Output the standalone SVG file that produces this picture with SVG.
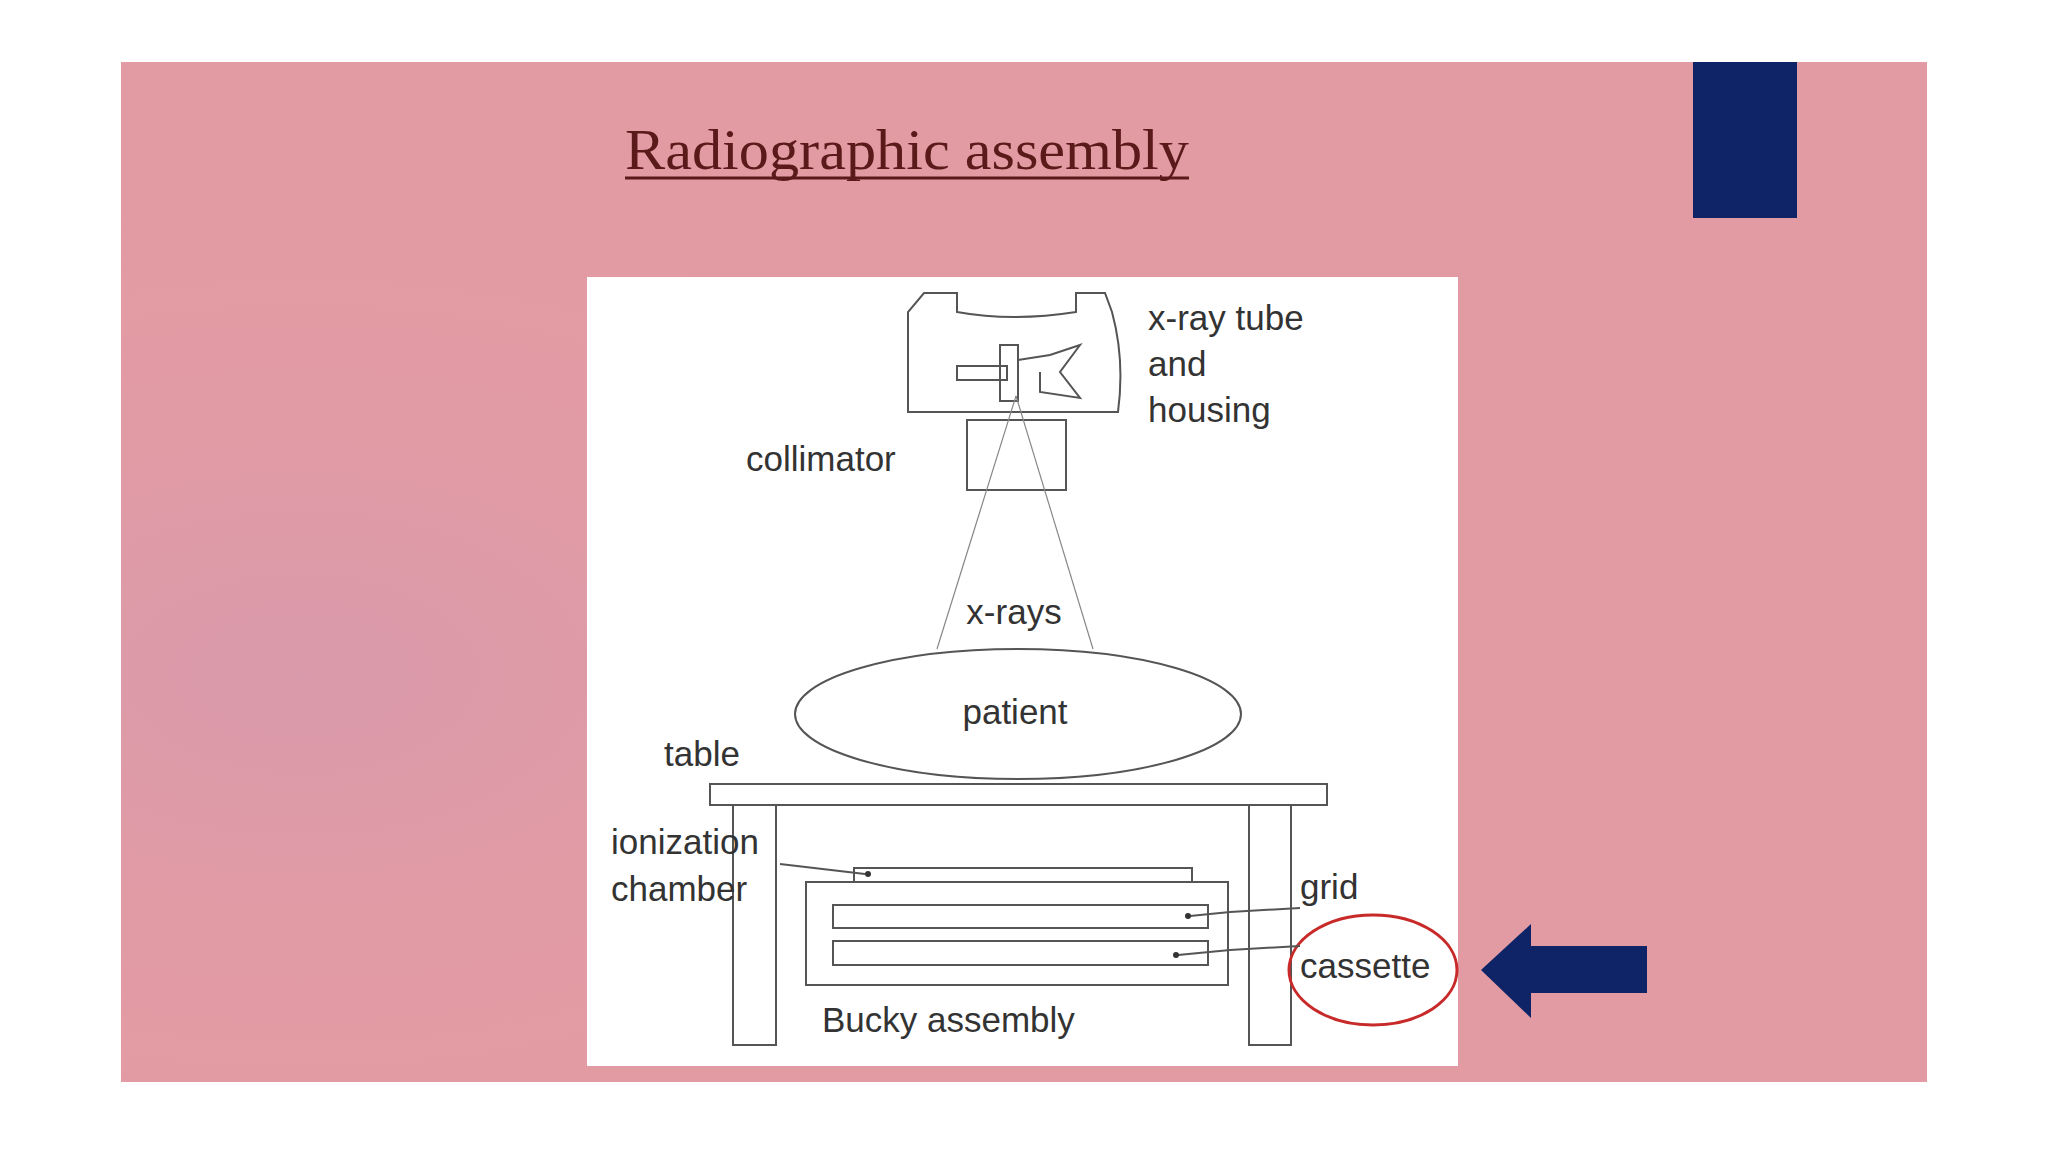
<svg xmlns="http://www.w3.org/2000/svg" width="2048" height="1152" viewBox="0 0 2048 1152">
<style>
.ln{fill:none;stroke:#555;stroke-width:2}
.bx{fill:#fff;stroke:#555;stroke-width:2}
.lb{font-family:"Liberation Sans",Arial,sans-serif;font-size:35px;fill:#333}
</style>
<defs>
<radialGradient id="g1" cx="0.1" cy="0.6" r="0.5"><stop offset="0" stop-color="#d99aab"/><stop offset="1" stop-color="#e49ca3" stop-opacity="0"/></radialGradient>
</defs>
<rect width="2048" height="1152" fill="#fff"/>
<rect x="121" y="62" width="1806" height="1020" fill="#e39ba3"/>
<rect x="121" y="62" width="1806" height="1020" fill="url(#g1)"/>
<rect x="1693" y="62" width="104" height="156" fill="#0f2466"/>
<g id="title"><text x="625" y="169" font-family="Liberation Serif,serif" font-size="58" fill="#5a1a1a" textLength="564" lengthAdjust="spacingAndGlyphs">Radiographic assembly</text>
<line x1="625" y1="178" x2="1189" y2="178" stroke="#5a1a1a" stroke-width="3"/></g>
<rect x="587" y="277" width="871" height="789" fill="#fff"/>
<g id="tube">
<path class="ln" d="M908,412 L908,312 L924,293 L957,293 L957,312 Q1012,322 1076,312 L1076,293 L1105,293 L1112,312 Q1125,360 1118,412 Z"/>
<rect class="ln" x="957" y="366" width="50" height="14"/>
<rect class="ln" x="1000" y="345" width="18" height="56"/>
<path class="ln" d="M1018,360 L1050,355 L1080,345 L1060,372 L1080,398 L1040,392 L1040,372"/>
<text class="lb" x="1148" y="330">x-ray tube</text>
<text class="lb" x="1148" y="376">and</text>
<text class="lb" x="1148" y="422">housing</text>
</g>
<g id="collimator"><rect class="ln" x="967" y="420" width="99" height="70"/>
<text class="lb" x="746" y="471">collimator</text></g>
<g id="xrays"><line x1="1016" y1="396" x2="937" y2="649" stroke="#888" stroke-width="1.2"/><line x1="1016" y1="396" x2="1093" y2="649" stroke="#888" stroke-width="1.2"/>
<text class="lb" x="1014" y="624" text-anchor="middle">x-rays</text></g>
<g id="patient"><ellipse class="ln" cx="1018" cy="714" rx="223" ry="65"/>
<text class="lb" x="1015" y="724" text-anchor="middle">patient</text></g>
<g id="table"><rect class="ln" x="710" y="784" width="617" height="21"/>
<rect class="ln" x="733" y="805" width="43" height="240"/>
<rect class="ln" x="1249" y="805" width="42" height="240"/>
<text class="lb" x="664" y="766">table</text></g>
<g id="bucky"><rect class="bx" x="854" y="868" width="338" height="14"/>
<rect class="bx" x="806" y="882" width="422" height="103"/>
<rect class="ln" x="833" y="905" width="375" height="23"/>
<rect class="ln" x="833" y="941" width="375" height="24"/>
<text class="lb" x="822" y="1032">Bucky assembly</text></g>
<g id="labels">
<text class="lb" x="611" y="854">ionization</text>
<text class="lb" x="611" y="901">chamber</text>
<text class="lb" x="1300" y="899">grid</text>
<text class="lb" x="1300" y="978">cassette</text>
<ellipse cx="1373" cy="970" rx="84" ry="55" fill="none" stroke="#c82a2a" stroke-width="3"/>
</g>
<g id="connectors">
<path class="ln" stroke-width="1.5" d="M780,864 L865,874"/><circle cx="868" cy="874" r="3" fill="#333"/>
<path class="ln" stroke-width="1.5" d="M1300,908 L1230,912 L1190,916"/><circle cx="1188" cy="916" r="3" fill="#333"/>
<path class="ln" stroke-width="1.5" d="M1300,946 L1230,950 L1178,955"/><circle cx="1176" cy="955" r="3" fill="#333"/>
<polygon points="1481,970 1531,924 1531,946 1647,946 1647,993 1531,993 1531,1018" fill="#0f2466"/>
</g>
</svg>
